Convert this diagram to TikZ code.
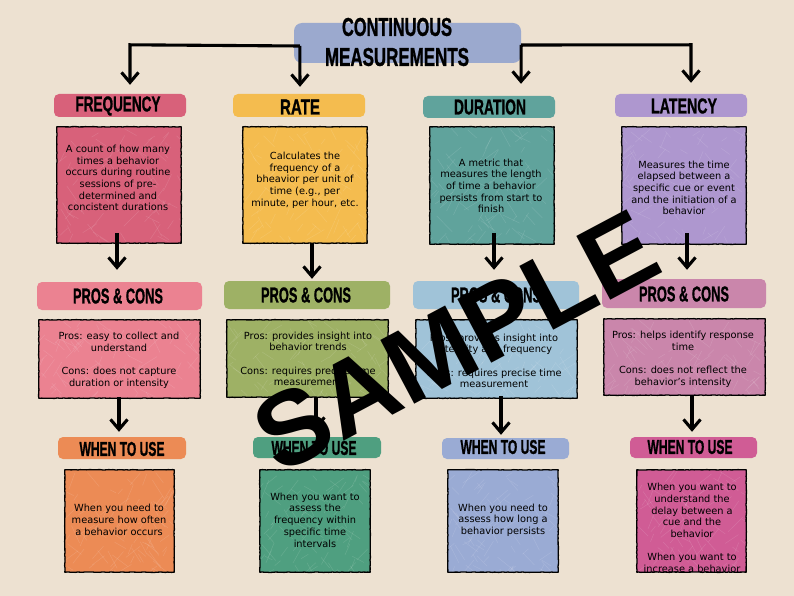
\documentclass[tikz,border=0pt]{standalone}
\usepackage{fontspec}
\usepackage{graphicx}
\usetikzlibrary{arrows.meta,calc,decorations.pathmorphing}
\setmainfont{DejaVu Sans}
\newfontfamily\ttlfont{Liberation Sans}[BoldFeatures={FakeBold=1.2}]
\newfontfamily\stampfont{Liberation Sans}
\definecolor{paper}{HTML}{EDE1D1}
\definecolor{cHead}{HTML}{9BA9CE}
\definecolor{cRed}{HTML}{D8617A}
\definecolor{cYel}{HTML}{F4BC4F}
\definecolor{cTeal}{HTML}{60A39C}
\definecolor{cPur}{HTML}{AE97CF}
\definecolor{cPink}{HTML}{EB8291}
\definecolor{cOli}{HTML}{9EB165}
\definecolor{cBlue}{HTML}{A0C3D8}
\definecolor{cMauve}{HTML}{CA86AB}
\definecolor{cOra}{HTML}{EC8B55}
\definecolor{cGrn}{HTML}{4F9F80}
\definecolor{cPeri}{HTML}{9AABD4}
\definecolor{cMag}{HTML}{D05C95}
\tikzset{
  pill/.style={rounded corners=5pt,inner sep=0pt},
  boxbase/.style={inner sep=0pt},
  rough/.style={draw=black,line width=1.3pt,line join=round,decorate,decoration={random steps,segment length=2.2pt,amplitude=.22pt}},
  scratch/.style={white,opacity=.13,line width=.5pt},
  bodytext/.style={align=center,inner sep=0pt,font=\fontsize{9.8}{11.67}\selectfont,text=black},
  ttl/.style={inner sep=0pt,text=black},
  arrow/.style={line width=3.1pt,-{Straight Barb[length=10pt,width=17pt,line width=3.1pt]}},
}
\newcommand{\ttlarg}{}
\newcommand{\pillbox}[8]{%
  \node[pill,fill=#6,minimum width={(#4-#2)*1pt},minimum height={(#5-#3)*1pt}] (#1) at ({(#2+#4)/2},{(#3+#5)/2}) {};
  \node[ttl] (#1t) at (#7,#8) {\ttlarg};
}
\newcommand{\ttlbox}[3]{\resizebox{#1pt}{#2pt}{\ttlfont\bfseries #3}}
\newcommand{\bodybox}[9]{%
  \node[boxbase,fill=#6,minimum width={(#4-#2)*1pt},minimum height={(#5-#3)*1pt}] (#1) at ({(#2+#4)/2},{(#3+#5)/2}) {};
  \begin{scope}
    \clip (#1.south west) rectangle (#1.north east);
    \foreach \i in {1,...,90}{
      \pgfmathsetmacro\sx{#2+rnd*(#4-#2)}
      \pgfmathsetmacro\sy{#3+rnd*(#5-#3)}
      \pgfmathsetmacro\sa{(rnd<.5?25:110)+rnd*40}
      \pgfmathsetmacro\sl{6+rnd*16}
      \draw[scratch] (\sx,\sy) -- ++(\sa:\sl);
    }
    \node[bodytext] (#1t) at (#7,#8) {#9};
  \end{scope}
  \draw[rough] (#1.south west) rectangle (#1.north east);
}
\begin{document}
\begin{tikzpicture}[x=1pt,y=-1pt]
\pgfmathsetseed{7}
\useasboundingbox (0,0) rectangle (794,596);
\fill[paper] (0,0) rectangle (794,596);

% header
\node[pill,fill=cHead,rounded corners=8pt,minimum width=227pt,minimum height=40pt] (hdr) at (407.5,43) {};
\node[ttl] (hdrA) at (397,27) {\ttlbox{110}{18}{CONTINUOUS}};
\node[ttl] (hdrB) at (397,57) {\ttlbox{144}{18}{MEASUREMENTS}};

% category pills
\renewcommand{\ttlarg}{\ttlbox{85}{15}{FREQUENCY}}
\pillbox{fq}{54}{94}{186}{117}{cRed}{118}{106}
\renewcommand{\ttlarg}{\ttlbox{40}{15}{RATE}}
\pillbox{rt}{233}{94}{365}{117}{cYel}{300}{107}
\renewcommand{\ttlarg}{\ttlbox{72}{15}{DURATION}}
\pillbox{du}{423}{96}{555}{118}{cTeal}{490}{107}
\renewcommand{\ttlarg}{\ttlbox{66}{15}{LATENCY}}
\pillbox{la}{615}{94}{747}{117}{cPur}{684}{106}

% definition boxes
\bodybox{fqb}{57}{127}{181}{243}{cRed}{118}{178}{A count of how many\\times a behavior\\occurs during routine\\sessions of pre-\\determined and\\concistent durations}
\bodybox{rtb}{243}{127}{367}{243}{cYel}{305}{180}{Calculates the\\frequency of a\\bheavior per unit of\\time (e.g., per\\minute, per hour, etc.}
\bodybox{dub}{430}{127}{554}{244}{cTeal}{491}{186}{A metric that\\measures the length\\of time a behavior\\persists from start to\\finish}
\bodybox{lab}{622}{127}{746}{244}{cPur}{684}{188}{Measures the time\\elapsed between a\\specific cue or event\\and the initiation of a\\behavior}

% pros and cons pills
\renewcommand{\ttlarg}{\ttlbox{90}{15}{PROS \& CONS}}
\pillbox{fqp}{37}{282}{202}{310}{cPink}{118}{296}
\pillbox{rtp}{224}{281}{390}{309}{cOli}{306}{295}
\pillbox{dup}{413}{281}{579}{309}{cBlue}{496}{295}
\pillbox{lap}{602}{279}{766}{308}{cMauve}{684}{294}

% pros and cons boxes
\bodybox{fqc}{39}{320}{200}{398}{cPink}{119}{360}{Pros: easy to collect and\\understand\\[11.67pt]Cons: does not capture\\duration or intensity}
\bodybox{rtc}{227}{320}{388}{397}{cOli}{308}{359}{Pros: provides insight into\\behavior trends\\[11.67pt]Cons: requires precise time\\measurement}
\bodybox{duc}{416}{320}{577}{398}{cBlue}{494}{361}{Pros: provides insight into\\intensity and frequency\\[11.67pt]Cons: requires precise time\\measurement}
\bodybox{lac}{604}{319}{765}{395}{cMauve}{683}{359}{Pros: helps identify response\\time\\[11.67pt]Cons: does not reflect the\\behavior's intensity}

% when to use pills
\renewcommand{\ttlarg}{\ttlbox{85}{14}{WHEN TO USE}}
\pillbox{fqw}{58}{437}{186}{459}{cOra}{122}{449}
\pillbox{rtw}{253}{437}{381}{458}{cGrn}{314}{448}
\pillbox{duw}{442}{438}{569}{459}{cPeri}{503}{447}
\pillbox{law}{630}{437}{757}{458}{cMag}{690}{447}

% when to use boxes
\bodybox{fqu}{65}{470}{174}{572}{cOra}{119}{520}{When you need to\\measure how often\\a behavior occurs}
\bodybox{rtu}{260}{470}{370}{572}{cGrn}{315}{520}{When you want to\\assess the\\frequency within\\specific time\\intervals}
\bodybox{duu}{448}{470}{558}{572}{cPeri}{503}{520}{When you need to\\assess how long a\\behavior persists}
\bodybox{lau}{637}{470}{746}{572}{cMag}{692}{528}{When you want to\\understand the\\delay between a\\cue and the\\behavior\\[11.67pt]When you want to\\increase a behavior}

% connectors from header
\draw[arrow] ($(hdr.west)+(6,3)$) -- ($(fq.north)+(10,-49)$) -- ($(fq.north)+(10,-9)$);
\draw[arrow] ($(hdr.west)+(6,3)$) -- ($(rt.north)+(1,-7)$);
\draw[arrow] ($(hdr.east)+(0,2)$) -- ($(du.north)+(32,-12)$);
\draw[arrow] ($(hdr.east)+(0,2)$) -- ($(la.north)+(10,-49)$) -- ($(la.north)+(10,-11)$);

% connectors down the columns
\draw[arrow] ($(fqb.south)+(-2,-10)$) -- ($(fqp.north)+(-2.5,-12)$);
\draw[arrow] ($(rtb.south)+(7,0)$) -- ($(rtp.north)+(5,-2)$);
\draw[arrow] ($(dub.south)+(2,-11)$) -- ($(dup.north)+(-2,-11)$);
\draw[arrow] ($(lab.south)+(3,-11)$) -- ($(lap.north)+(3,-9)$);
\draw[arrow] ($(fqc.south)+(-.5,-1)$) -- ($(fqw.north)+(-3,-5)$);
\draw[arrow] ($(rtc.south)+(8.5,0)$) -- ($(rtw.north)+(-1,-7)$);
\draw[arrow] ($(duc.south)+(4.5,-2)$) -- ($(duw.north)+(-4.5,-3)$);
\draw[arrow] ($(lac.south)+(7.5,0)$) -- ($(law.north)+(-1.5,-5)$);

% watermark
\node[inner sep=0pt,rotate=28,font=\stampfont\bfseries\fontsize{105}{105}\selectfont,text=black] (stamp) at (456,341) {SAMPLE};
\end{tikzpicture}
\end{document}
